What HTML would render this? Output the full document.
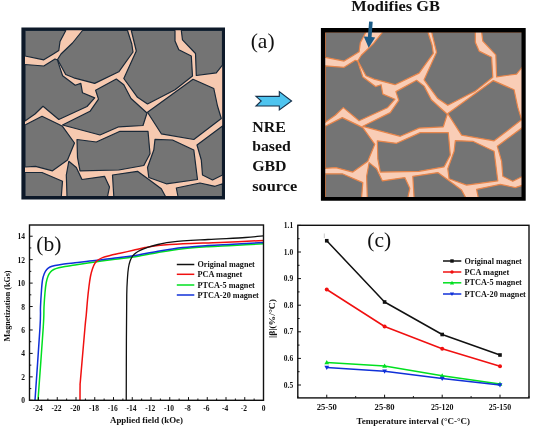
<!DOCTYPE html>
<html lang="en"><head><meta charset="utf-8"><title>Figure</title>
<style>html,body{margin:0;padding:0;background:#fff}body{width:533px;height:429px;overflow:hidden}</style></head>
<body>
<svg width="533" height="429" viewBox="0 0 533 429" style="display:block">
<rect width="533" height="429" fill="#fff"/>
<defs><clipPath id="cl"><rect x="24" y="29.5" width="199.5" height="168"/></clipPath><clipPath id="cr"><rect x="24" y="30" width="198.5" height="166"/></clipPath></defs>
<rect x="23.2" y="29.2" width="200.6" height="168.6" fill="#f6c9b0"/>
<g clip-path="url(#cl)"><g fill="#747474" stroke="#182838" stroke-width="1.2" stroke-linejoin="round"><polygon points="25,30.5 65.8,30.5 60,41.5 58.8,50.5 53.3,54 43.8,59.8 25,56"/><polygon points="82.5,30.5 127.5,30.5 131.8,44 133,52 118.8,71.8 94.7,83.4 73.8,77.8 65.7,74.5 60,64 57.5,59.5 61,54 72.5,43"/><polygon points="25,64.5 43.8,66 55,59 57.5,60 59.5,66.4 62.6,75.8 75.2,85.3 80.8,83.4 82.5,92.8 94.7,97.9 87,106.5 58.8,119.5 43,106.3 35,114 25,121"/><polygon points="25,125 42,116.3 57.5,123.8 62.5,126.3 74.5,143 67.5,160 52.5,170.8 35.5,166.3 25,167"/><polygon points="25,172.5 42,172.5 62.5,181.3 61.3,196.5 25,196.5"/><polygon points="67,196.5 66.3,175 68.8,161.3 76.3,167.5 82,179.5 104.5,176.3 109.5,187 107.5,196.5"/><polygon points="77,139.5 96.3,142 120,131.3 148,131.3 150,153.8 143.8,165.5 118.8,170 80,170.8 77.5,157.5"/><polygon points="95.6,90.3 116.3,79 123.8,84.8 131,98.5 147,113 143,125.5 118.8,126.8 100,135 62.5,125 90,111.3 98.5,99.1"/><polygon points="131.3,30.5 175,30.5 175,41 178.8,49.8 191.3,56 192.5,76 175,89.8 168.8,93 147.5,104 137.5,97.3 123.8,78.5 136.3,51"/><polygon points="181.3,30.5 222.5,30.5 222.5,65 220.8,67.2 216.3,72.8 196.3,75.5 195.5,53.5 182.5,39.8"/><polygon points="147.5,112.3 193,79.3 213.8,88.5 217.5,106 221.3,118.5 193.8,139.5 161.3,133.8"/><polygon points="222.5,126 222.5,175 212.5,180 202.5,175 201.3,160 197,145"/><polygon points="155,139.3 172.5,140 193.8,150 197.5,179.5 166.3,183.8 148.8,177.5 147.5,167.5 153.8,150"/><polygon points="176.3,188 200,183 215,186.3 222.5,183.8 222.5,196.5 178,196.5"/><polygon points="113.8,196.5 112.5,175 137.5,171.3 148.8,179.5 161.3,188.8 165.5,196.5"/></g></g>
<path d="M21.4,27.6H225V199.4H21.4Z M25,30.2V195.9H222.2V30.2Z" fill="#0d1929" fill-rule="evenodd"/>
<g transform="translate(300.3,1.3)">
<rect x="23" y="29.5" width="200" height="168" fill="#f9cdb6"/>
<g clip-path="url(#cr)"><g fill="#747474" stroke="#e8854a" stroke-width="1.2" stroke-linejoin="round"><polygon points="25,30.5 65.8,30.5 60,41.5 58.8,50.5 53.3,54 43.8,59.8 25,56"/><polygon points="82.5,30.5 127.5,30.5 131.8,44 133,52 118.8,71.8 94.7,83.4 73.8,77.8 65.7,74.5 60,64 57.5,59.5 61,54 72.5,43"/><polygon points="25,64.5 43.8,66 55,59 57.5,60 59.5,66.4 62.6,75.8 75.2,85.3 80.8,83.4 82.5,92.8 94.7,97.9 87,106.5 58.8,119.5 43,106.3 35,114 25,121"/><polygon points="25,125 42,116.3 57.5,123.8 62.5,126.3 74.5,143 67.5,160 52.5,170.8 35.5,166.3 25,167"/><polygon points="25,172.5 42,172.5 62.5,181.3 61.3,196.5 25,196.5"/><polygon points="67,196.5 66.3,175 68.8,161.3 76.3,167.5 82,179.5 104.5,176.3 109.5,187 107.5,196.5"/><polygon points="77,139.5 96.3,142 120,131.3 148,131.3 150,153.8 143.8,165.5 118.8,170 80,170.8 77.5,157.5"/><polygon points="95.6,90.3 116.3,79 123.8,84.8 131,98.5 147,113 143,125.5 118.8,126.8 100,135 62.5,125 90,111.3 98.5,99.1"/><polygon points="131.3,30.5 175,30.5 175,41 178.8,49.8 191.3,56 192.5,76 175,89.8 168.8,93 147.5,104 137.5,97.3 123.8,78.5 136.3,51"/><polygon points="181.3,30.5 222.5,30.5 222.5,65 220.8,67.2 216.3,72.8 196.3,75.5 195.5,53.5 182.5,39.8"/><polygon points="147.5,112.3 193,79.3 213.8,88.5 217.5,106 221.3,118.5 193.8,139.5 161.3,133.8"/><polygon points="222.5,126 222.5,175 212.5,180 202.5,175 201.3,160 197,145"/><polygon points="155,139.3 172.5,140 193.8,150 197.5,179.5 166.3,183.8 148.8,177.5 147.5,167.5 153.8,150"/><polygon points="176.3,188 200,183 215,186.3 222.5,183.8 222.5,196.5 178,196.5"/><polygon points="113.8,196.5 112.5,175 137.5,171.3 148.8,179.5 161.3,188.8 165.5,196.5"/></g></g>
</g>
<path d="M320.9,28.1H525.7V200.7H320.9Z M325.2,32.6V196.9H521.5V32.6Z" fill="#000" fill-rule="evenodd"/>
<g font-family="'Liberation Serif',serif" font-weight="bold" fill="#111">
<text x="351.2" y="11.3" font-size="14.3" textLength="88.8" lengthAdjust="spacingAndGlyphs">Modifies GB</text>
<text x="252.2" y="131.6" font-size="14.3" textLength="33.6" lengthAdjust="spacingAndGlyphs">NRE</text>
<text x="252.2" y="151.4" font-size="14.3" textLength="38.6" lengthAdjust="spacingAndGlyphs">based</text>
<text x="252.2" y="171.3" font-size="14.3" textLength="34.4" lengthAdjust="spacingAndGlyphs">GBD</text>
<text x="252.2" y="191.3" font-size="14.3" textLength="45" lengthAdjust="spacingAndGlyphs">source</text>
</g>
<text x="250.7" y="47.5" font-family="'Liberation Serif',serif" font-size="21.5" fill="#111">(a)</text>
<path d="M369.1,21.5 L372.7,21.7 L371.6,37.1 L375.2,37.4 L368.65,47.7 L363.8,36.6 L367.9,36.7 Z" fill="#1c5b86"/>
<path d="M256,96.4 L279.3,96.4 L279.3,91.6 L291.6,101 L279.3,110 L279.3,106 L256,106 L261.2,101 Z" fill="#4ec4ef" stroke="#16304a" stroke-width="1.1" stroke-linejoin="miter"/>
<g font-family="'Liberation Serif',serif" font-weight="bold" fill="#111">
<path d="M38,400.3 C38.88,388.12 42.25,342.80 43.25,327.25 C44.25,311.70 43.71,312.79 44,307 C44.29,301.21 44.62,296.58 45,292.5 C45.38,288.42 45.75,285.21 46.25,282.5 C46.75,279.79 47.29,278.00 48,276.25 C48.71,274.50 49.54,273.12 50.5,272 C51.46,270.88 52.38,270.21 53.75,269.5 C55.12,268.79 56.88,268.25 58.75,267.75 C60.62,267.25 62.29,266.96 65,266.5 C67.71,266.04 70.00,265.75 75,265 C80.00,264.25 88.33,262.95 95,262 C101.67,261.05 108.62,260.13 115,259.3 C121.38,258.47 126.08,258.13 133.25,257 C140.42,255.87 149.71,253.88 158,252.5 C166.29,251.12 174.67,249.67 183,248.7 C191.33,247.73 199.67,247.23 208,246.7 C216.33,246.17 223.75,245.98 233,245.5 C242.25,245.02 258.42,244.08 263.5,243.8" fill="none" stroke="#00e020" stroke-width="1.5" stroke-linejoin="round" stroke-linecap="butt"/>
<path d="M35,400.3 C35.83,388.12 39.08,342.80 40,327.25 C40.92,311.70 40.25,313.21 40.5,307 C40.75,300.79 41.17,294.50 41.5,290 C41.83,285.50 42.04,282.71 42.5,280 C42.96,277.29 43.54,275.50 44.25,273.75 C44.96,272.00 45.79,270.62 46.75,269.5 C47.71,268.38 48.62,267.67 50,267 C51.38,266.33 52.92,265.96 55,265.5 C57.08,265.04 59.17,264.70 62.5,264.25 C65.83,263.80 69.58,263.41 75,262.8 C80.42,262.19 88.33,261.40 95,260.6 C101.67,259.80 108.62,258.81 115,258 C121.38,257.19 126.08,256.88 133.25,255.75 C140.42,254.62 149.71,252.57 158,251.2 C166.29,249.82 174.67,248.45 183,247.5 C191.33,246.55 199.67,246.05 208,245.5 C216.33,244.95 223.75,244.70 233,244.2 C242.25,243.70 258.42,242.78 263.5,242.5" fill="none" stroke="#1030d8" stroke-width="1.5" stroke-linejoin="round" stroke-linecap="butt"/>
<path d="M80,400.3 C80.02,397.75 80.02,388.47 80.1,385 C80.18,381.53 79.68,389.12 80.5,379.5 C81.32,369.88 84.04,338.00 85,327.25 C85.96,316.50 85.83,319.54 86.25,315 C86.67,310.46 87.04,304.79 87.5,300 C87.96,295.21 88.50,290.21 89,286.25 C89.50,282.29 89.92,279.17 90.5,276.25 C91.08,273.33 91.75,270.93 92.5,268.75 C93.25,266.57 94.08,264.66 95,263.2 C95.92,261.74 96.75,260.93 98,260 C99.25,259.07 100.50,258.35 102.5,257.6 C104.50,256.85 107.08,256.23 110,255.5 C112.92,254.78 116.12,254.12 120,253.25 C123.88,252.38 129.08,251.24 133.25,250.3 C137.42,249.36 140.88,248.40 145,247.6 C149.12,246.80 151.67,246.15 158,245.5 C164.33,244.85 172.58,244.22 183,243.7 C193.42,243.18 207.08,242.93 220.5,242.4 C233.92,241.87 256.33,240.82 263.5,240.5" fill="none" stroke="#f01010" stroke-width="1.5" stroke-linejoin="round" stroke-linecap="butt"/>
<path d="M126.25,400.3 C126.28,390.25 126.32,357.55 126.4,340 C126.48,322.45 126.57,305.42 126.75,295 C126.93,284.58 127.21,282.08 127.5,277.5 C127.79,272.92 128.08,270.21 128.5,267.5 C128.92,264.79 129.42,263.00 130,261.25 C130.58,259.50 131.25,258.21 132,257 C132.75,255.79 133.50,254.92 134.5,254 C135.50,253.08 136.58,252.30 138,251.5 C139.42,250.70 141.00,250.02 143,249.2 C145.00,248.38 147.50,247.38 150,246.6 C152.50,245.82 154.17,245.30 158,244.5 C161.83,243.70 164.67,242.63 173,241.8 C181.33,240.97 195.92,240.22 208,239.5 C220.08,238.78 236.25,238.12 245.5,237.5 C254.75,236.88 260.50,236.08 263.5,235.8" fill="none" stroke="#111" stroke-width="1.3" stroke-linejoin="round" stroke-linecap="butt"/>
<rect x="29.5" y="225" width="234.0" height="175.3" fill="none" stroke="#111" stroke-width="1.4"/>
<path d="M29.5,400.3h3.2M29.5,388.58h1.8M29.5,376.86h3.2M29.5,365.14h1.8M29.5,353.42h3.2M29.5,341.7h1.8M29.5,329.98h3.2M29.5,318.26h1.8M29.5,306.54h3.2M29.5,294.82h1.8M29.5,283.1h3.2M29.5,271.38h1.8M29.5,259.66h3.2M29.5,247.94h1.8M29.5,236.22h3.2M38.5,400.3v-3.2M47.875,400.3v-1.8M57.25,400.3v-3.2M66.625,400.3v-1.8M76,400.3v-3.2M85.375,400.3v-1.8M94.75,400.3v-3.2M104.125,400.3v-1.8M113.5,400.3v-3.2M122.875,400.3v-1.8M132.25,400.3v-3.2M141.625,400.3v-1.8M151,400.3v-3.2M160.375,400.3v-1.8M169.75,400.3v-3.2M179.125,400.3v-1.8M188.5,400.3v-3.2M197.875,400.3v-1.8M207.25,400.3v-3.2M216.625,400.3v-1.8M226,400.3v-3.2M235.375,400.3v-1.8M244.75,400.3v-3.2M254.125,400.3v-1.8M263.5,400.3v-3.2" stroke="#111" stroke-width="1" fill="none"/>
<text x="25" y="403.3" font-size="7.5" text-anchor="end">0</text>
<text x="25" y="379.86" font-size="7.5" text-anchor="end">2</text>
<text x="25" y="356.42" font-size="7.5" text-anchor="end">4</text>
<text x="25" y="332.98" font-size="7.5" text-anchor="end">6</text>
<text x="25" y="309.54" font-size="7.5" text-anchor="end">8</text>
<text x="25" y="286.1" font-size="7.5" text-anchor="end">10</text>
<text x="25" y="262.66" font-size="7.5" text-anchor="end">12</text>
<text x="25" y="239.22" font-size="7.5" text-anchor="end">14</text>
<text x="37.7" y="410.5" font-size="7.5" text-anchor="middle">-24</text>
<text x="56.45" y="410.5" font-size="7.5" text-anchor="middle">-22</text>
<text x="75.2" y="410.5" font-size="7.5" text-anchor="middle">-20</text>
<text x="93.95" y="410.5" font-size="7.5" text-anchor="middle">-18</text>
<text x="112.7" y="410.5" font-size="7.5" text-anchor="middle">-16</text>
<text x="131.45" y="410.5" font-size="7.5" text-anchor="middle">-14</text>
<text x="150.2" y="410.5" font-size="7.5" text-anchor="middle">-12</text>
<text x="168.95" y="410.5" font-size="7.5" text-anchor="middle">-10</text>
<text x="187.7" y="410.5" font-size="7.5" text-anchor="middle">-8</text>
<text x="206.45" y="410.5" font-size="7.5" text-anchor="middle">-6</text>
<text x="225.2" y="410.5" font-size="7.5" text-anchor="middle">-4</text>
<text x="243.95" y="410.5" font-size="7.5" text-anchor="middle">-2</text>
<text x="263.5" y="410.5" font-size="7.5" text-anchor="middle">0</text>
<text x="146.5" y="423.3" font-size="9" text-anchor="middle" textLength="73" lengthAdjust="spacingAndGlyphs">Applied field (kOe)</text>
<text transform="translate(10,306) rotate(-90)" font-size="8" text-anchor="middle" textLength="71" lengthAdjust="spacingAndGlyphs">Magnetization (kGs)</text>
<path d="M176.8,264.5H194.3" stroke="#111" stroke-width="1.5"/>
<text x="197.5" y="267.1" font-size="8.1" textLength="57.3" lengthAdjust="spacingAndGlyphs">Original magnet</text>
<path d="M176.8,274.3H194.3" stroke="#f01010" stroke-width="1.5"/>
<text x="197.5" y="276.9" font-size="8.1" textLength="44.8" lengthAdjust="spacingAndGlyphs">PCA magnet</text>
<path d="M176.8,285H194.3" stroke="#00e020" stroke-width="1.5"/>
<text x="197.5" y="287.6" font-size="8.1" textLength="57.3" lengthAdjust="spacingAndGlyphs">PTCA-5 magnet</text>
<path d="M176.8,295H194.3" stroke="#1030d8" stroke-width="1.5"/>
<text x="197.5" y="297.6" font-size="8.1" textLength="61.3" lengthAdjust="spacingAndGlyphs">PTCA-20 magnet</text>
</g>
<text x="36.3" y="251.3" font-family="'Liberation Serif',serif" font-size="21.5" fill="#111">(b)</text>
<g font-family="'Liberation Serif',serif" font-weight="bold" fill="#111">
<rect x="297.8" y="225.3" width="231.2" height="172.59999999999997" fill="none" stroke="#111" stroke-width="1.4"/>
<path d="M297.8,385h3.2M297.8,371.7h1.8M297.8,358.4h3.2M297.8,345.1h1.8M297.8,331.8h3.2M297.8,318.5h1.8M297.8,305.2h3.2M297.8,291.9h1.8M297.8,278.6h3.2M297.8,265.3h1.8M297.8,252h3.2M297.8,238.7h1.8M297.8,225.4h3.2M326.75,397.9v-3.2M355.675,397.9v-1.8M384.6,397.9v-3.2M413.4,397.9v-1.8M442.2,397.9v-3.2M471.1,397.9v-1.8M500,397.9v-3.2M297.85,397.9v-1.8M528.9,397.9v-1.8" stroke="#111" stroke-width="1" fill="none"/>
<text x="293.2" y="387.5" font-size="7.5" text-anchor="end">0.5</text>
<text x="293.2" y="360.9" font-size="7.5" text-anchor="end">0.6</text>
<text x="293.2" y="334.3" font-size="7.5" text-anchor="end">0.7</text>
<text x="293.2" y="307.7" font-size="7.5" text-anchor="end">0.8</text>
<text x="293.2" y="281.1" font-size="7.5" text-anchor="end">0.9</text>
<text x="293.2" y="254.5" font-size="7.5" text-anchor="end">1.0</text>
<text x="293.2" y="227.9" font-size="7.5" text-anchor="end">1.1</text>
<text x="326.75" y="409.6" font-size="7.5" text-anchor="middle" textLength="20" lengthAdjust="spacingAndGlyphs">25-50</text>
<text x="384.6" y="409.6" font-size="7.5" text-anchor="middle" textLength="20" lengthAdjust="spacingAndGlyphs">25-80</text>
<text x="442.2" y="409.6" font-size="7.5" text-anchor="middle" textLength="22.3" lengthAdjust="spacingAndGlyphs">25-120</text>
<text x="500" y="409.6" font-size="7.5" text-anchor="middle" textLength="22.3" lengthAdjust="spacingAndGlyphs">25-150</text>
<text x="413.3" y="424" font-size="9" text-anchor="middle" textLength="113.5" lengthAdjust="spacingAndGlyphs">Temperature interval (°C-°C)</text>
<text transform="translate(274.6,318.5) rotate(-90)" font-size="9" text-anchor="middle" textLength="39" lengthAdjust="spacingAndGlyphs">|β|(%/°C)</text>
<path d="M326.75,240.75 L384.6,302 L442.2,334.5 L500,355" fill="none" stroke="#111" stroke-width="1.5" stroke-linejoin="round" stroke-linecap="butt"/>
<rect x="324.95" y="238.95" width="3.6" height="3.6" fill="#111"/>
<rect x="382.8" y="300.2" width="3.6" height="3.6" fill="#111"/>
<rect x="440.4" y="332.7" width="3.6" height="3.6" fill="#111"/>
<rect x="498.2" y="353.2" width="3.6" height="3.6" fill="#111"/>
<path d="M326.75,289.5 L384.6,326.5 L442.2,348.75 L500,366.25" fill="none" stroke="#f01010" stroke-width="1.5" stroke-linejoin="round" stroke-linecap="butt"/>
<circle cx="326.75" cy="289.5" r="2" fill="#f01010"/>
<circle cx="384.6" cy="326.5" r="2" fill="#f01010"/>
<circle cx="442.2" cy="348.75" r="2" fill="#f01010"/>
<circle cx="500" cy="366.25" r="2" fill="#f01010"/>
<path d="M326.75,362.5 L384.6,366 L442.2,375.75 L500,384" fill="none" stroke="#00e020" stroke-width="1.5" stroke-linejoin="round" stroke-linecap="butt"/>
<path d="M326.75,360.1L329.15,364.3H324.35Z" fill="#00e020"/>
<path d="M384.6,363.6L387,367.8H382.2Z" fill="#00e020"/>
<path d="M442.2,373.35L444.6,377.55H439.8Z" fill="#00e020"/>
<path d="M500,381.6L502.4,385.8H497.6Z" fill="#00e020"/>
<path d="M326.75,367.5 L384.6,371.25 L442.2,378.5 L500,385" fill="none" stroke="#1030d8" stroke-width="1.5" stroke-linejoin="round" stroke-linecap="butt"/>
<path d="M326.75,369.9L329.15,365.7H324.35Z" fill="#1030d8"/>
<path d="M384.6,373.65L387,369.45H382.2Z" fill="#1030d8"/>
<path d="M442.2,380.9L444.6,376.7H439.8Z" fill="#1030d8"/>
<path d="M500,387.4L502.4,383.2H497.6Z" fill="#1030d8"/>
<path d="M324.3,233.5V238" stroke="#bbb" stroke-width="0.8"/>
<path d="M443,261H461.3" stroke="#111" stroke-width="1.5"/>
<rect x="450.3" y="259.3" width="3.4" height="3.4" fill="#111"/>
<text x="464.5" y="263.6" font-size="8.1" textLength="57.3" lengthAdjust="spacingAndGlyphs">Original magnet</text>
<path d="M443,272H461.3" stroke="#f01010" stroke-width="1.5"/>
<circle cx="452" cy="272" r="1.7" fill="#f01010"/>
<text x="464.5" y="274.6" font-size="8.1" textLength="44.8" lengthAdjust="spacingAndGlyphs">PCA magnet</text>
<path d="M443,282.8H461.3" stroke="#00e020" stroke-width="1.5"/>
<path d="M452,280.7L454.1,284.375H449.9Z" fill="#00e020"/>
<text x="464.5" y="285.4" font-size="8.1" textLength="57.3" lengthAdjust="spacingAndGlyphs">PTCA-5 magnet</text>
<path d="M443,294H461.3" stroke="#1030d8" stroke-width="1.5"/>
<path d="M452,296.1L454.1,292.425H449.9Z" fill="#1030d8"/>
<text x="464.5" y="296.6" font-size="8.1" textLength="61.3" lengthAdjust="spacingAndGlyphs">PTCA-20 magnet</text>
</g>
<text x="367.3" y="246.5" font-family="'Liberation Serif',serif" font-size="21.5" fill="#111">(c)</text>
</svg>
</body></html>
